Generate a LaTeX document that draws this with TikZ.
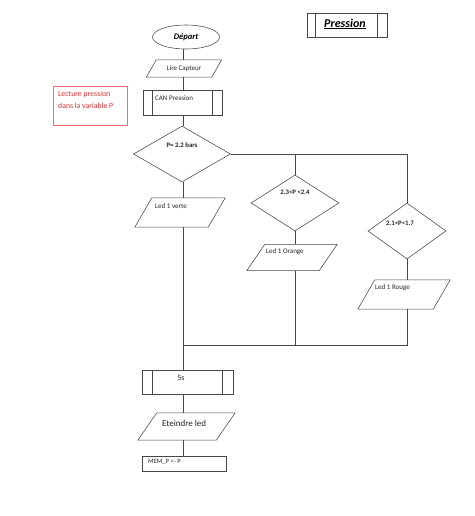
\documentclass[tikz,border=0pt]{standalone}
\usepackage{fontspec}
\setmainfont{Carlito}
\usetikzlibrary{shapes.geometric}
\definecolor{lncol}{RGB}{70,70,70}
\definecolor{redtxt}{RGB}{228,45,45}
\definecolor{redbox}{RGB}{240,110,110}
\newcommand\pgramdraw[2]{\draw[ln] ([xshift=#2]#1.north west) -- (#1.north east) -- ([xshift=-#2]#1.south east) -- (#1.south west) -- cycle;}
\begin{document}
\begin{tikzpicture}[x=1pt,y=-1pt,
  ln/.style={draw=lncol, line width=0.55pt},
  box/.style={ln, rectangle, inner sep=0pt},
  io/.style={rectangle, inner sep=0pt},
  dec/.style={ln, diamond, inner sep=1pt},
  term/.style={ln, ellipse, inner sep=0pt},
  txt/.style={inner sep=0pt, font=\fontsize{7}{8}\selectfont, text=black!85},
  btxt/.style={inner sep=0pt, font=\fontsize{6.8}{8}\selectfont\bfseries, text=black!85},
]
\useasboundingbox (0,0) rectangle (474,516);
\fill[white] (0,0) rectangle (474,516);

% shapes
\node[term, minimum width=67pt, minimum height=24pt, font=\fontsize{8.5}{9}\selectfont\bfseries\itshape] (dep) at (186,37) {Départ};
\node[io, minimum width=75pt, minimum height=17pt] (lire) at (184,68.5) {};
\node[box, minimum width=79pt, minimum height=25pt] (can) at (182.5,102.5) {};
\node[dec, minimum width=97pt, minimum height=56pt] (d1) at (182,154) {};
\node[io, minimum width=90pt, minimum height=29pt] (v1) at (180,212.5) {};
\node[dec, minimum width=88pt, minimum height=56pt] (d2) at (295,203) {};
\node[io, minimum width=90pt, minimum height=26pt] (or) at (292,257.5) {};
\node[dec, minimum width=78pt, minimum height=56pt] (d3) at (407,231) {};
\node[io, minimum width=92pt, minimum height=29pt] (ro) at (404,294.5) {};
\node[box, minimum width=91pt, minimum height=24pt] (five) at (187.5,382) {};
\node[io, minimum width=97pt, minimum height=27pt] (ete) at (186.5,426.5) {};
\node[box, minimum width=84pt, minimum height=15pt] (mem) at (184,463.5) {};
\node[box, minimum width=80pt, minimum height=24pt] (pres) at (347,25) {};
\node[rectangle, draw=redbox, line width=0.6pt, minimum width=74pt, minimum height=39pt] (note) at (90,105.5) {};

% parallelogram outlines (input/output)
\pgramdraw{lire}{10pt}
\pgramdraw{v1}{17pt}
\pgramdraw{or}{18pt}
\pgramdraw{ro}{17pt}
\pgramdraw{ete}{19pt}

% inner bars of predefined processes
\draw[ln] ([xshift=10pt]can.north west) -- ([xshift=10pt]can.south west);
\draw[ln] ([xshift=-10pt]can.north east) -- ([xshift=-10pt]can.south east);
\draw[ln] ([xshift=11pt]five.north west) -- ([xshift=11pt]five.south west);
\draw[ln] ([xshift=-11pt]five.north east) -- ([xshift=-11pt]five.south east);
\draw[ln] ([xshift=9pt]pres.north west) -- ([xshift=9pt]pres.south west);
\draw[ln] ([xshift=-10pt]pres.north east) -- ([xshift=-10pt]pres.south east);

% texts
\node[txt] (tlire) at (lire.center) {Lire Capteur};
\node[txt, anchor=west] (tcan) at (155,98) {CAN Pression};
\node[btxt] (td1) at (182,145) {P= 2.2 bars};
\node[txt, anchor=west] (tv1) at (155,206) {Led 1 verte};
\node[btxt] (td2) at (295,192) {2.3<P <2.4};
\node[txt, anchor=west] (tor) at (266,252) {Led 1 Orange};
\node[btxt] (td3) at (400,223) {2.1<P<1.7};
\node[txt, anchor=west] (tro) at (375,288) {Led 1 Rouge};
\node[inner sep=0pt, font=\fontsize{8}{9}\selectfont, text=black!85] (t5) at (181,378) {5s};
\node[inner sep=0pt, font=\fontsize{9}{10}\selectfont, text=black!85, anchor=west] (tete) at (162,423.5) {Eteindre led};
\node[inner sep=0pt, font=\fontsize{6.5}{7}\selectfont, text=black!85, anchor=west] (tmem) at (148,461.5) {MEM\_P <- P};
\node[inner sep=0pt, font=\fontsize{12}{13}\selectfont\bfseries\itshape] (tpres) at (345,24) {\underline{Pression}};
\node[inner sep=0pt, font=\fontsize{7.8}{12}\selectfont, text=redtxt, align=left, anchor=north west] (tnote) at (58,91) {Lecture pression\\dans la variable  P};

% connectors
\coordinate (spine) at (183,0);
\coordinate (jn) at (183,345);
\draw[ln] (dep.south -| spine) -- (lire.north -| spine);
\draw[ln] (lire.south -| spine) -- (can.north -| spine);
\draw[ln] (can.south -| spine) -- (d1.north -| spine);
\draw[ln] (d1.south -| spine) -- (v1.north -| spine);
\draw[ln] (v1.south -| spine) -- (five.north -| spine);
\draw[ln] (d1.east) -- (d1.east -| d3.north) -- (d3.north);
\draw[ln] (d1.east -| d2.north) -- (d2.north);
\draw[ln] (d2.south) -- (d2.south |- or.north);
\draw[ln] (d3.south) -- (d3.south |- ro.north);
\draw[ln] (or.south -| d2.south) -- (d2.south |- jn);
\draw[ln] (ro.south -| d3.south) -- (d3.south |- jn) -- (jn);
\draw[ln] (five.south -| spine) -- (ete.north -| spine);
\draw[ln] (ete.south -| spine) -- (mem.north -| spine);
\end{tikzpicture}
\end{document}
